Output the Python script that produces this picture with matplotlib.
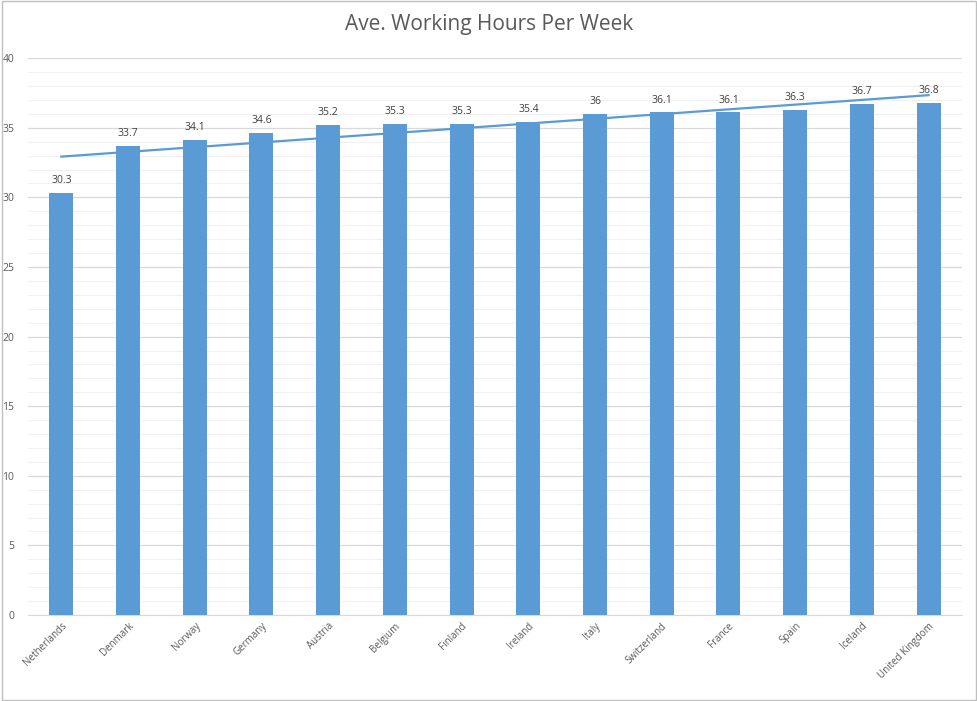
import numpy as np
import matplotlib
matplotlib.use('Agg')
import matplotlib.pyplot as plt

countries = ['Netherlands', 'Denmark', 'Norway', 'Germany', 'Austria', 'Belgium', 'Finland',
             'Ireland', 'Italy', 'Switzerland', 'France', 'Spain', 'Iceland', 'United Kingdom']
hours = [30.3, 33.7, 34.1, 34.6, 35.2, 35.3, 35.3, 35.4, 36, 36.1, 36.1, 36.3, 36.7, 36.8]
labels = ['30.3', '33.7', '34.1', '34.6', '35.2', '35.3', '35.3', '35.4', '36', '36.1',
          '36.1', '36.3', '36.7', '36.8']

plt.rcParams['font.family'] = ['Open Sans', 'DejaVu Sans']
fig = plt.figure(figsize=(9.78, 7.01), dpi=100)
ax = fig.add_axes([0.0286, 0.1227, 0.955, 0.7943])

x = np.arange(len(countries))
ax.bar(x, hours, width=0.36, color='#5b9bd5', zorder=3)
for xi, h, t in zip(x, hours, labels):
    ax.text(xi, h + 0.5, t, ha='center', va='bottom', fontsize=7.5, color='#404040')

# linear trendline like Excel's
p = np.poly1d(np.polyfit(x, hours, 1))
ax.plot(x, p(x), color='#5b9bd5', lw=1.6, zorder=4)

ax.set_xlim(-0.5, len(countries) - 0.5)
ax.set_ylim(0, 40)
ax.set_yticks(range(0, 41, 5))
ax.set_yticks(range(0, 41), minor=True)
ax.grid(axis='y', which='major', color='#d9d9d9', lw=0.9, zorder=0)
ax.grid(axis='y', which='minor', color='#f0f0f0', lw=0.8, zorder=0)
ax.set_xticks(x)
ax.set_xticklabels(countries, rotation=45, ha='right', rotation_mode='anchor', fontsize=7, color='#595959')
ax.tick_params(axis='y', labelsize=7.5, labelcolor='#595959', length=0, pad=10)
ax.tick_params(axis='x', length=0, pad=4)
ax.tick_params(which='minor', length=0)
for s in ['top', 'right', 'left']:
    ax.spines[s].set_visible(False)
ax.spines['bottom'].set_color('#d9d9d9')

fig.text(0.5, 0.965, 'Ave. Working Hours Per Week', ha='center', va='center', fontsize=15, color='#595959')
fig.patches.append(plt.Rectangle((0.002, 0.002), 0.996, 0.996, transform=fig.transFigure,
                                 fill=False, edgecolor='#bfbfbf', lw=1))
fig.savefig('out.png', dpi=100)
